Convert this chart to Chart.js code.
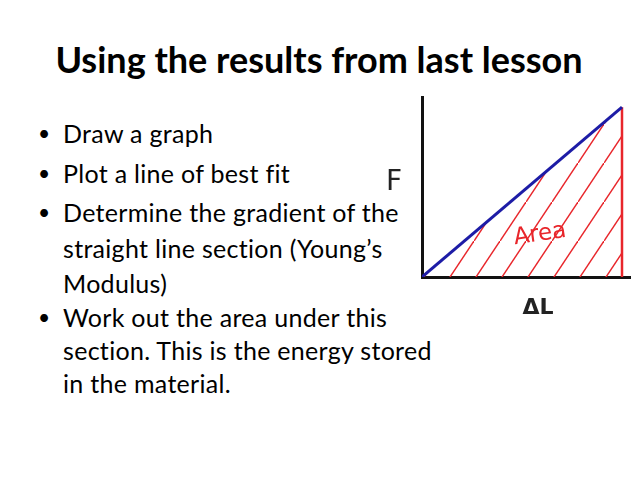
<!DOCTYPE html>
<html>
<head>
<meta charset="utf-8">
<script src="https://cdn.jsdelivr.net/npm/chart.js@4"></script>
<style>
  html, body { margin: 0; padding: 0; background: #fff; }
  body { width: 638px; height: 479px; position: relative; overflow: hidden; font-family: Lato, "Open Sans", sans-serif; color: #000; }
  .title { position: absolute; left: 0; width: 638px; top: 38px; text-align: center; font-weight: bold; font-size: 36px; line-height: 42px; }
  .line { position: absolute; left: 63px; font-size: 25px; line-height: 28px; letter-spacing: 0.3px; white-space: nowrap; }
  .line.b::before { content: "\2022"; position: absolute; left: -25px; font-size: 21px; }
  #graph { position: absolute; left: 370px; top: 85px; }
</style>
</head>
<body>
<div class="title">Using the results from last lesson</div>
<div class="line b" style="top:119px">Draw a graph</div>
<div class="line b" style="top:159px">Plot a line of best fit</div>
<div class="line b" style="top:198px">Determine the gradient of the</div>
<div class="line" style="top:234px">straight line section (Young’s</div>
<div class="line" style="top:269px">Modulus)</div>
<div class="line b" style="top:303px">Work out the area under this</div>
<div class="line" style="top:336px">section. This is the energy stored</div>
<div class="line" style="top:369px">in the material.</div>
<div id="graph" style="width:268px;height:250px"><canvas id="c"></canvas></div>
<script>
// sketch values (arbitrary units)
const deltaL = [0, 10];
const force = [0, 10];
const xLabel = 'ΔL';
const yLabel = 'F';
const areaLabel = 'Area';

const BLUE = '#1d1ca6';
const RED = '#e8262b';

// diagonal red hatching for the area under the line
function hatch() {
    const w = 26, h = 39;
    const c = document.createElement('canvas');
    c.width = w; c.height = h;
    const g = c.getContext('2d');
    g.strokeStyle = RED;
    g.lineWidth = 1.5;
    g.beginPath();
    g.moveTo(-w, 2 * h); g.lineTo(2 * w, -h);
    g.stroke();
    return g.createPattern(c, 'repeat');
}

const lastX = deltaL[deltaL.length - 1];
const lastY = force[force.length - 1];

const sketchLabels = {
    id: 'sketchLabels',
    afterDatasetsDraw(chart) {
        const {ctx, chartArea, scales} = chart;
        ctx.save();
        ctx.textAlign = 'center';
        ctx.textBaseline = 'middle';
        ctx.fillStyle = '#222';
        ctx.font = '28px "DejaVu Sans", sans-serif';
        ctx.fillText(yLabel, chartArea.left - 28, (chartArea.top + chartArea.bottom) / 2 - 4);
        ctx.font = 'bold 22px "DejaVu Sans", sans-serif';
        ctx.fillText(xLabel, scales.x.getPixelForValue(lastX * 0.58), chartArea.bottom + 31);
        ctx.translate(scales.x.getPixelForValue(lastX * 0.59), scales.y.getPixelForValue(lastY * 0.25));
        ctx.rotate(-0.14);
        ctx.fillStyle = RED;
        ctx.font = '23px "DejaVu Sans", sans-serif';
        ctx.fillText(areaLabel, 0, 0);
        ctx.restore();
    }
};

new Chart(document.getElementById('c'), {
    type: 'line',
    data: {
        datasets: [{
            data: deltaL.map((x, i) => ({x: x, y: force[i]})),
            borderColor: BLUE,
            borderWidth: 3,
            pointRadius: 0,
            fill: 'origin',
            backgroundColor: hatch()
        }, {
            data: [{x: lastX, y: 0}, {x: lastX, y: lastY}],
            borderColor: RED,
            borderWidth: 2.5,
            pointRadius: 0,
            fill: false
        }]
    },
    options: {
        responsive: true,
        maintainAspectRatio: false,
        animation: false,
        layout: { padding: { left: 44, top: 12, right: 8, bottom: 50 } },
        plugins: { legend: { display: false }, tooltip: { enabled: false } },
        scales: {
            x: {
                type: 'linear', min: 0, max: 10.4,
                grid: { display: false },
                ticks: { display: false },
                border: { color: '#111', width: 3 }
            },
            y: {
                min: 0, max: 10.6,
                grid: { display: false },
                ticks: { display: false },
                border: { color: '#111', width: 3 }
            }
        }
    },
    plugins: [sketchLabels]
});
</script>
</body>
</html>
